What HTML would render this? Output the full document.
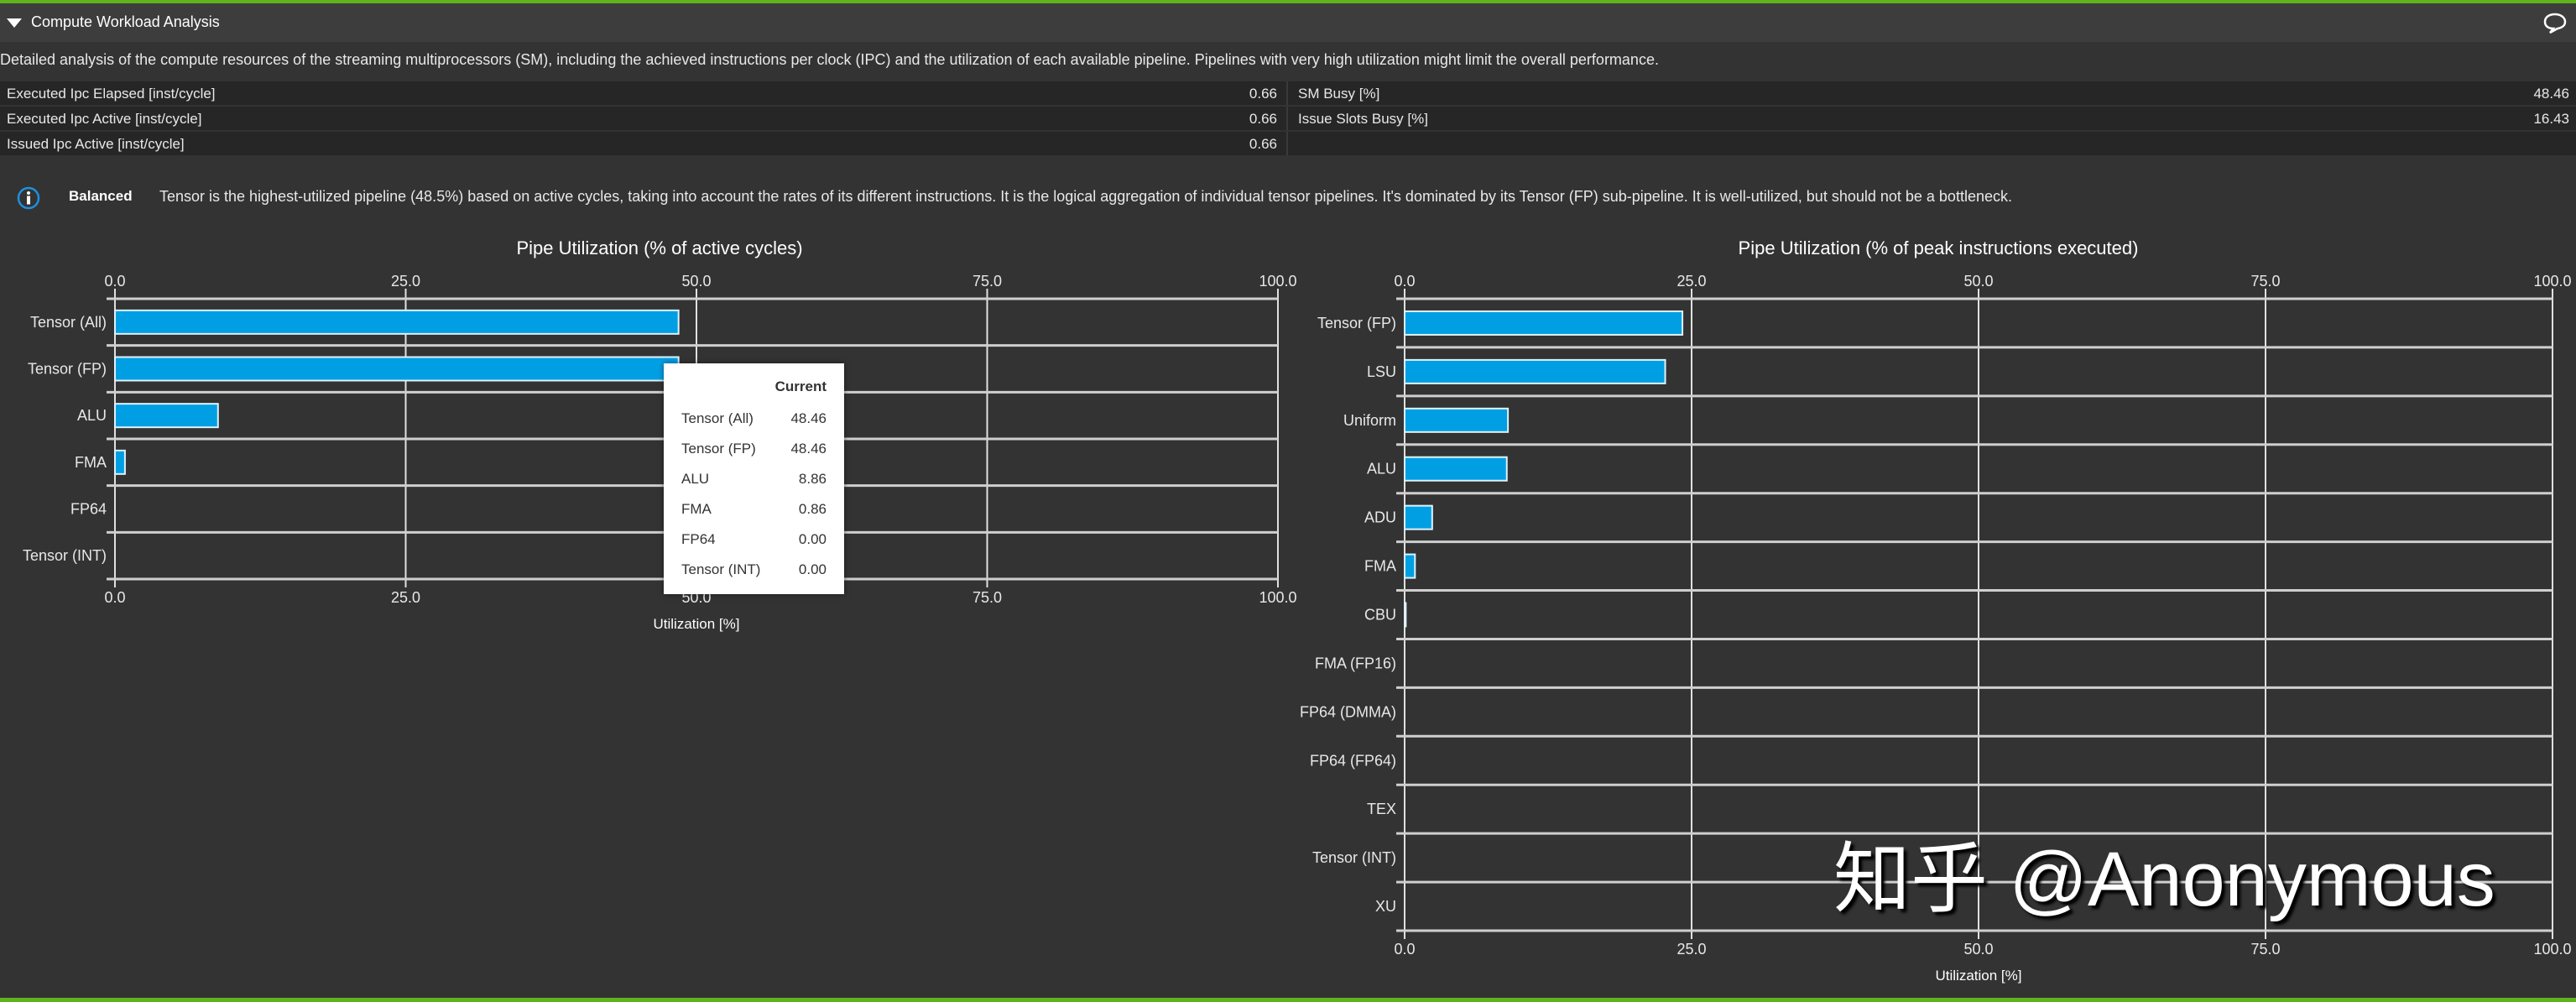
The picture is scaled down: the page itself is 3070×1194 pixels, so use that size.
<!DOCTYPE html>
<html><head><meta charset="utf-8">
<style>
html,body{margin:0;padding:0;width:3070px;height:1194px;overflow:hidden;background:#333333;font-family:"Liberation Sans","Noto Sans CJK SC",sans-serif;color:#e8e8e8;}
.abs{position:absolute;white-space:nowrap;}
</style></head><body>
<div class="abs" style="left:0;top:0;width:3070px;height:4px;background:#5fb31c"></div>
<div class="abs" style="left:0;top:4px;width:3070px;height:46px;background:#3d3d3d"></div>
<div class="abs" style="left:8px;top:22px;width:0;height:0;border-left:9px solid transparent;border-right:9px solid transparent;border-top:11px solid #fff"></div>
<div class="abs" style="left:37px;top:16px;font-size:18px;color:#fff">Compute Workload Analysis</div>
<svg class="abs" style="left:3030px;top:14px" width="30" height="26"><path d="M15 3 C7 3 3 7 3 12 C3 17 7 20 13 20 L9 25 L18 20 C24 19 27 16 27 12 C27 7 22 3 15 3Z" fill="none" stroke="#fff" stroke-width="2.5"/></svg>
<div class="abs" style="left:0;top:61px;font-size:18px">Detailed analysis of the compute resources of the streaming multiprocessors (SM), including the achieved instructions per clock (IPC) and the utilization of each available pipeline. Pipelines with very high utilization might limit the overall performance.</div>
<div id="tbl"></div>
<svg class="abs" style="left:20px;top:222px" width="28" height="28"><circle cx="14" cy="14" r="12" fill="none" stroke="#1e90e0" stroke-width="2.5"/><circle cx="14" cy="8" r="2" fill="#fff"/><rect x="12" y="11.5" width="4" height="10" fill="#fff"/></svg>
<div class="abs" style="left:82px;top:224px;font-size:17px;font-weight:bold;color:#fff">Balanced</div>
<div class="abs" style="left:190px;top:224px;font-size:18px">Tensor is the highest-utilized pipeline (48.5%) based on active cycles, taking into account the rates of its different instructions. It is the logical aggregation of individual tensor pipelines. It's dominated by its Tensor (FP) sub-pipeline. It is well-utilized, but should not be a bottleneck.</div>
<svg id="chart" class="abs" style="left:0;top:0" width="3070" height="1194"></svg>
<div class="abs" style="left:791px;top:433px;width:215px;height:275px;background:#fff;box-shadow:0 0 6px rgba(0,0,0,.5);color:#333;font-size:17px">
<div class="abs" style="right:21px;top:18px;font-weight:bold">Current</div>
<div id="tt"></div>
</div>
<div class="abs" style="left:2185px;top:973px;font-size:92px;color:#fff;text-shadow:4px 4px 3px #000;font-family:'Liberation Sans','Noto Sans CJK SC',sans-serif">知乎 @Anonymous</div>
<div class="abs" style="left:0;top:1189px;width:3070px;height:5px;background:#5fb31c"></div>
<script>
const leftCats=["Tensor (All)","Tensor (FP)","ALU","FMA","FP64","Tensor (INT)"];
const leftVals=[48.46,48.46,8.86,0.86,0.00,0.00];
const rightCats=["Tensor (FP)","LSU","Uniform","ALU","ADU","FMA","CBU","FMA (FP16)","FP64 (DMMA)","FP64 (FP64)","TEX","Tensor (INT)","XU"];
const rightVals=[24.2,22.7,9.0,8.9,2.4,0.9,0.1,0,0,0,0,0,0];
const ticks=[0,25,50,75,100];
const tickLabels=["0.0","25.0","50.0","75.0","100.0"];
const tableLeft=[["Executed Ipc Elapsed [inst/cycle]","0.66"],["Executed Ipc Active [inst/cycle]","0.66"],["Issued Ipc Active [inst/cycle]","0.66"]];
const tableRight=[["SM Busy [%]","48.46"],["Issue Slots Busy [%]","16.43"],["",""]];

const tbl=document.getElementById('tbl');
for(let i=0;i<3;i++){
  const y=97+i*30;
  const r=document.createElement('div');r.className='abs';
  r.style.cssText=`left:0;top:${y}px;width:3070px;height:28px;background:#262626`;
  
  
  r.innerHTML=`<span class="abs" style="left:8px;top:5px;font-size:17px">${tableLeft[i][0]}</span><span class="abs" style="left:1440px;width:82px;text-align:right;top:5px;font-size:17px">${tableLeft[i][1]}</span><span class="abs" style="left:1533px;top:0;width:2px;height:28px;background:#3a3a3a"></span><span class="abs" style="left:1547px;top:5px;font-size:17px">${tableRight[i][0]}</span><span class="abs" style="left:2980px;width:82px;text-align:right;top:5px;font-size:17px">${tableRight[i][1]}</span>`;
  tbl.appendChild(r);
}
const tt=document.getElementById('tt');
leftCats.forEach((c,i)=>{
  const d=document.createElement('div');d.className='abs';
  d.style.cssText=`left:21px;right:21px;top:${56+i*36}px;font-size:17px`;
  
  
  d.innerHTML=`<span>${c}</span><span style="float:right">${leftVals[i].toFixed(2)}</span>`;
  tt.appendChild(d);
});
const svg=document.getElementById('chart');
const NS='http://www.w3.org/2000/svg';
function el(t,a,p){const e=document.createElementNS(NS,t);for(const k in a)e.setAttribute(k,a[k]);(p||svg).appendChild(e);return e;}
function chart(cfg,cats,vals){
  const g=el('g',{});
  
  
  const x=v=>cfg.x0+(cfg.x1-cfg.x0)*v/100;
  const rh=(cfg.y1-cfg.y0)/cats.length;
  const t=el('text',{x:cfg.tx,y:cfg.y0-53,'text-anchor':'middle','font-size':22,fill:'#fff'},g);t.textContent=cfg.title;
  
  
  ticks.forEach((v,i)=>{
    const l=el('line',{x1:x(v),x2:x(v),y1:cfg.y0-12,y2:cfg.y1+10,stroke:'#e0e0e0','stroke-width':2},g);
    
    
    const a=el('text',{x:x(v),y:cfg.y0-15,'text-anchor':'middle','font-size':18,fill:'#e8e8e8'},g);a.textContent=tickLabels[i];
    
    
    const b=el('text',{x:x(v),y:cfg.y1+28,'text-anchor':'middle','font-size':18,fill:'#e8e8e8'},g);b.textContent=tickLabels[i];
    
    
  });
  for(let i=0;i<=cats.length;i++){
    const l=el('line',{x1:cfg.x0-10,x2:cfg.x1,y1:cfg.y0+i*rh,y2:cfg.y0+i*rh,stroke:'#cfcfcf','stroke-width':3},g);
    
    
  }
  cats.forEach((c,i)=>{
    const cy=cfg.y0+(i+0.5)*rh;
    const a=el('text',{x:cfg.x0-10,y:cy+6,'text-anchor':'end','font-size':18,fill:'#e8e8e8'},g);a.textContent=c;
    
    
    if(vals[i]>0){
      const r=el('rect',{x:x(0),y:cy-14,width:Math.max(1,x(vals[i])-x(0)),height:28,fill:'#009fe3',stroke:'#dff2fb','stroke-width':2},g);
      
      
    }
  });
  const at=el('text',{x:(cfg.x0+cfg.x1)/2,y:cfg.y1+59,'text-anchor':'middle','font-size':17,fill:'#fff'},g);at.textContent='Utilization [%]';
  
  
}
chart({name:'active-cycles-chart',title:'Pipe Utilization (% of active cycles)',x0:137,x1:1523,y0:356,y1:690,tx:786},leftCats,leftVals);
chart({name:'peak-instructions-chart',title:'Pipe Utilization (% of peak instructions executed)',x0:1674,x1:3042,y0:356,y1:1109,tx:2310},rightCats,rightVals);
</script>
</body></html>
